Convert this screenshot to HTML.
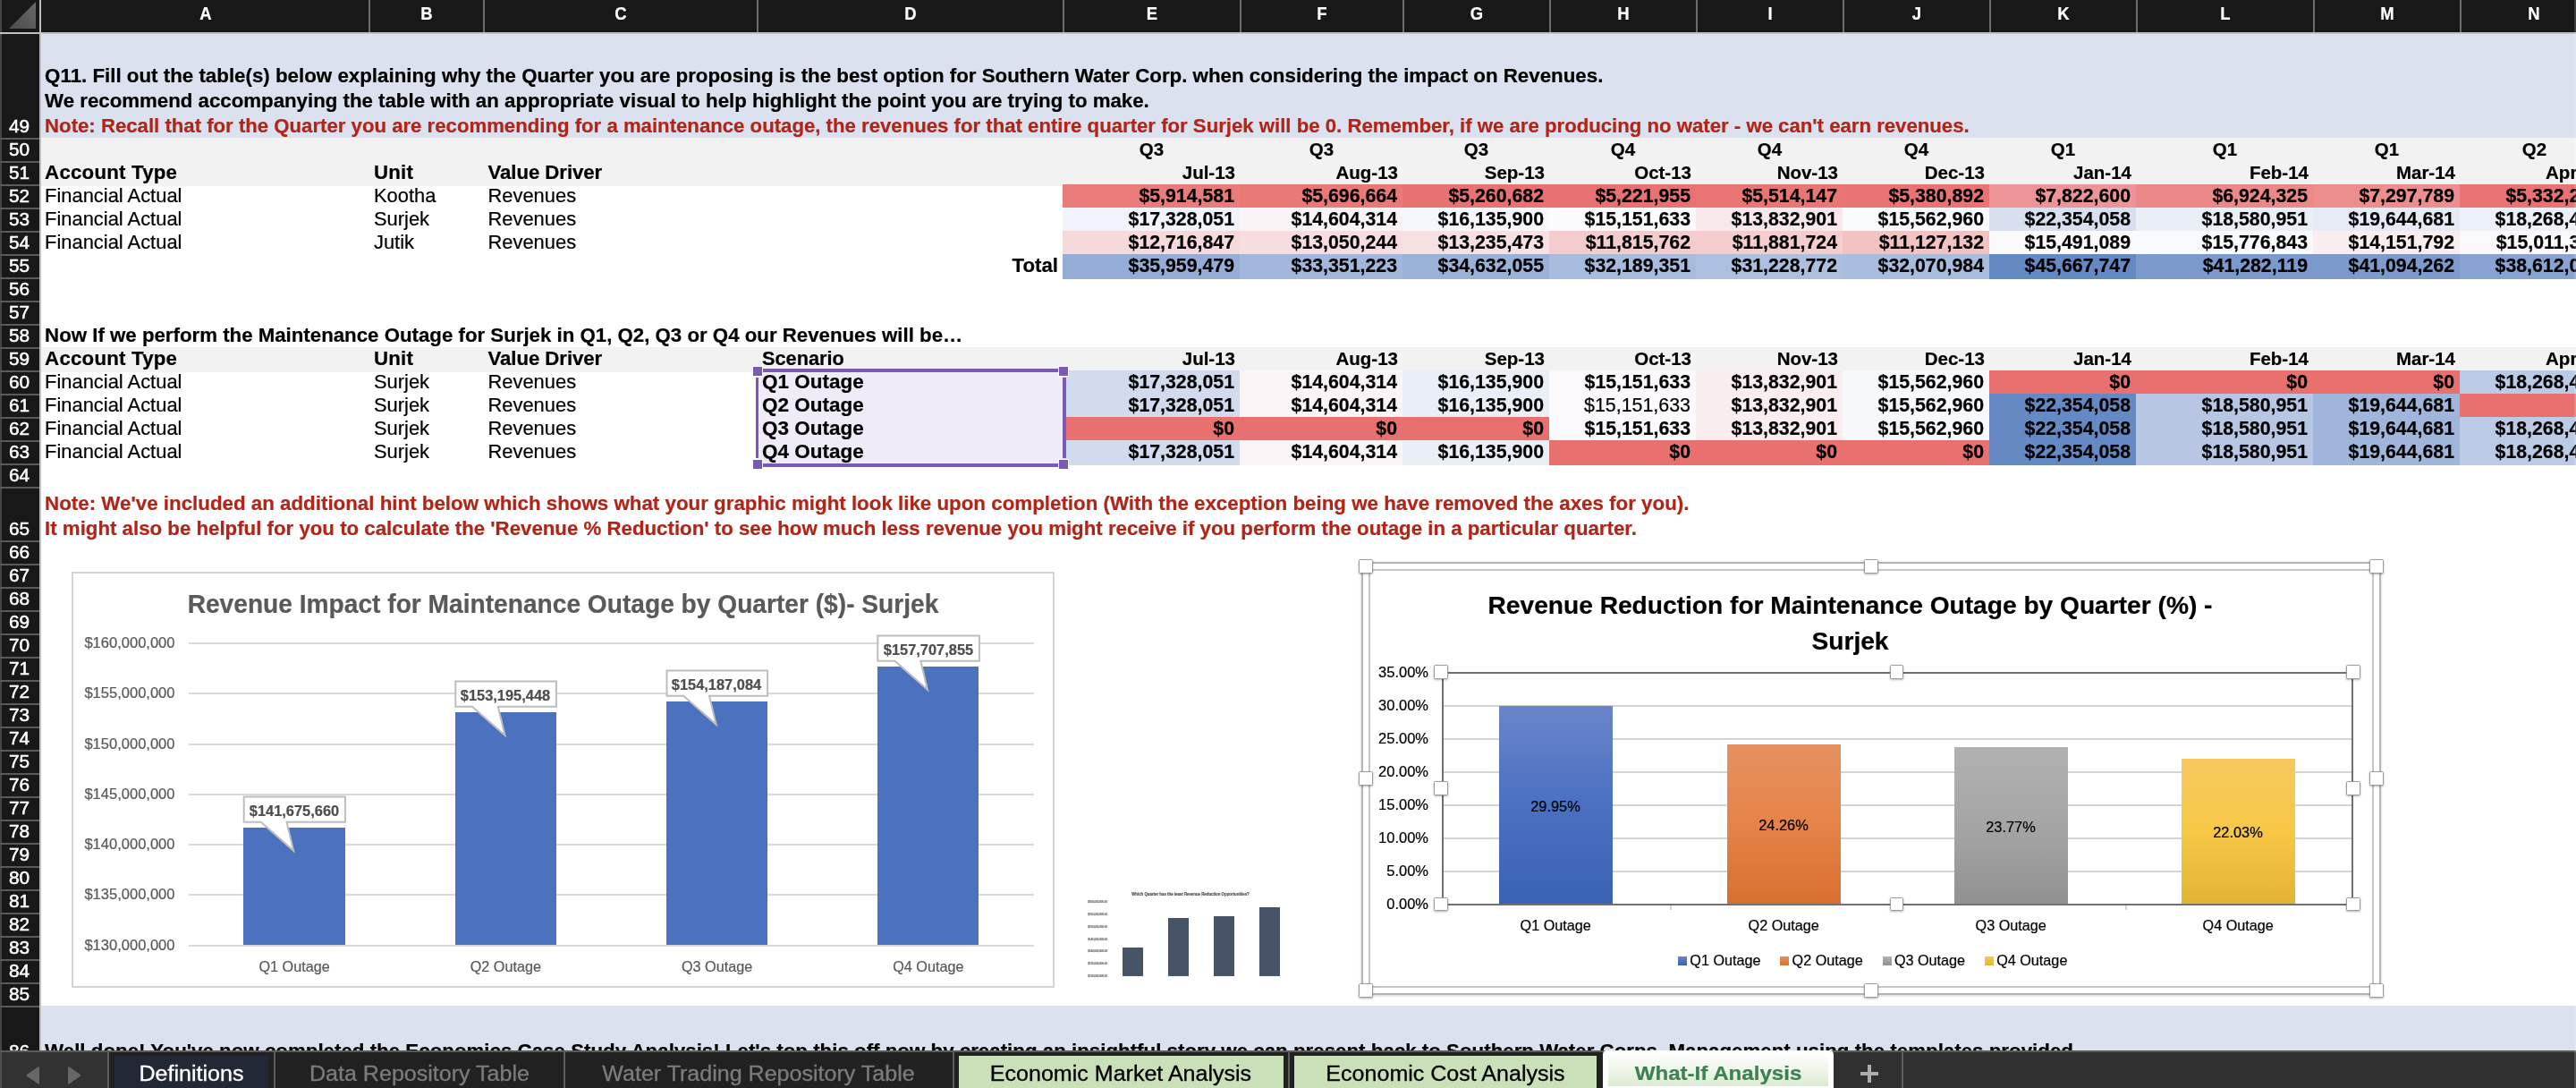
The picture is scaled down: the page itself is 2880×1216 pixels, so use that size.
<!DOCTYPE html><html><head><meta charset="utf-8"><title>What-If Analysis</title>
<style>
html,body{margin:0;padding:0;}
body{width:2880px;height:1216px;overflow:hidden;background:#fff;position:relative;font-family:"Liberation Sans",sans-serif;}
div{position:absolute;box-sizing:border-box;}
.t{white-space:nowrap;-webkit-text-stroke:0.22px currentColor;}
svg{position:absolute;overflow:visible;}
</style></head><body><div id="root" style="left:0;top:0;width:2880px;height:1216px;will-change:transform;overflow:hidden">
<div style="left:46px;top:38px;width:2834px;height:116px;background:#dce1f0;"></div>
<div style="left:46px;top:154px;width:2834px;height:54px;background:#f2f2f2;"></div>
<div style="left:46px;top:388px;width:2834px;height:28px;background:#f2f2f2;"></div>
<div style="left:46px;top:1124px;width:2834px;height:60px;background:#dce1f0;"></div>
<div style="left:1188px;top:206px;width:198px;height:26px;background:#ea7b7b;"></div>
<div class="t" style="top:204px;font-size:21.3px;line-height:30px;color:#000;font-weight:bold;right:1500px;text-align:right;">$5,914,581</div>
<div style="left:1386px;top:206px;width:182px;height:26px;background:#e97877;"></div>
<div class="t" style="top:204px;font-size:21.3px;line-height:30px;color:#000;font-weight:bold;right:1318px;text-align:right;">$5,696,664</div>
<div style="left:1568px;top:206px;width:164px;height:26px;background:#e87271;"></div>
<div class="t" style="top:204px;font-size:21.3px;line-height:30px;color:#000;font-weight:bold;right:1154px;text-align:right;">$5,260,682</div>
<div style="left:1732px;top:206px;width:164px;height:26px;background:#e87271;"></div>
<div class="t" style="top:204px;font-size:21.3px;line-height:30px;color:#000;font-weight:bold;right:990px;text-align:right;">$5,221,955</div>
<div style="left:1896px;top:206px;width:164px;height:26px;background:#e97675;"></div>
<div class="t" style="top:204px;font-size:21.3px;line-height:30px;color:#000;font-weight:bold;right:826px;text-align:right;">$5,514,147</div>
<div style="left:2060px;top:206px;width:164px;height:26px;background:#e97473;"></div>
<div class="t" style="top:204px;font-size:21.3px;line-height:30px;color:#000;font-weight:bold;right:662px;text-align:right;">$5,380,892</div>
<div style="left:2224px;top:206px;width:164px;height:26px;background:#ed9596;"></div>
<div class="t" style="top:204px;font-size:21.3px;line-height:30px;color:#000;font-weight:bold;right:498px;text-align:right;">$7,822,600</div>
<div style="left:2388px;top:206px;width:198px;height:26px;background:#eb8989;"></div>
<div class="t" style="top:204px;font-size:21.3px;line-height:30px;color:#000;font-weight:bold;right:300px;text-align:right;">$6,924,325</div>
<div style="left:2586px;top:206px;width:164px;height:26px;background:#ec8e8e;"></div>
<div class="t" style="top:204px;font-size:21.3px;line-height:30px;color:#000;font-weight:bold;right:136px;text-align:right;">$7,297,789</div>
<div style="left:2750px;top:206px;width:130px;height:26px;background:#e87372;"></div>
<div class="t" style="top:204px;font-size:21.3px;line-height:30px;color:#000;font-weight:bold;right:-28px;text-align:right;">$5,332,261</div>
<div style="left:1188px;top:232px;width:198px;height:26px;background:#f1f3fa;"></div>
<div class="t" style="top:230px;font-size:21.3px;line-height:30px;color:#000;font-weight:bold;right:1500px;text-align:right;">$17,328,051</div>
<div style="left:1386px;top:232px;width:182px;height:26px;background:#faf3f6;"></div>
<div class="t" style="top:230px;font-size:21.3px;line-height:30px;color:#000;font-weight:bold;right:1318px;text-align:right;">$14,604,314</div>
<div style="left:1568px;top:232px;width:164px;height:26px;background:#f6f7fc;"></div>
<div class="t" style="top:230px;font-size:21.3px;line-height:30px;color:#000;font-weight:bold;right:1154px;text-align:right;">$16,135,900</div>
<div style="left:1732px;top:232px;width:164px;height:26px;background:#fbfafd;"></div>
<div class="t" style="top:230px;font-size:21.3px;line-height:30px;color:#000;font-weight:bold;right:990px;text-align:right;">$15,151,633</div>
<div style="left:1896px;top:232px;width:164px;height:26px;background:#f8e8eb;"></div>
<div class="t" style="top:230px;font-size:21.3px;line-height:30px;color:#000;font-weight:bold;right:826px;text-align:right;">$13,832,901</div>
<div style="left:2060px;top:232px;width:164px;height:26px;background:#f9fafd;"></div>
<div class="t" style="top:230px;font-size:21.3px;line-height:30px;color:#000;font-weight:bold;right:662px;text-align:right;">$15,562,960</div>
<div style="left:2224px;top:232px;width:164px;height:26px;background:#d8e0f0;"></div>
<div class="t" style="top:230px;font-size:21.3px;line-height:30px;color:#000;font-weight:bold;right:498px;text-align:right;">$22,354,058</div>
<div style="left:2388px;top:232px;width:198px;height:26px;background:#eaeef7;"></div>
<div class="t" style="top:230px;font-size:21.3px;line-height:30px;color:#000;font-weight:bold;right:300px;text-align:right;">$18,580,951</div>
<div style="left:2586px;top:232px;width:164px;height:26px;background:#e5eaf5;"></div>
<div class="t" style="top:230px;font-size:21.3px;line-height:30px;color:#000;font-weight:bold;right:136px;text-align:right;">$19,644,681</div>
<div style="left:2750px;top:232px;width:130px;height:26px;background:#ecf0f8;"></div>
<div class="t" style="top:230px;font-size:21.3px;line-height:30px;color:#000;font-weight:bold;right:-28px;text-align:right;">$18,268,491</div>
<div style="left:1188px;top:258px;width:198px;height:26px;background:#f6d9db;"></div>
<div class="t" style="top:256px;font-size:21.3px;line-height:30px;color:#000;font-weight:bold;right:1500px;text-align:right;">$12,716,847</div>
<div style="left:1386px;top:258px;width:182px;height:26px;background:#f7dde0;"></div>
<div class="t" style="top:256px;font-size:21.3px;line-height:30px;color:#000;font-weight:bold;right:1318px;text-align:right;">$13,050,244</div>
<div style="left:1568px;top:258px;width:164px;height:26px;background:#f7e0e2;"></div>
<div class="t" style="top:256px;font-size:21.3px;line-height:30px;color:#000;font-weight:bold;right:1154px;text-align:right;">$13,235,473</div>
<div style="left:1732px;top:258px;width:164px;height:26px;background:#f5ccce;"></div>
<div class="t" style="top:256px;font-size:21.3px;line-height:30px;color:#000;font-weight:bold;right:990px;text-align:right;">$11,815,762</div>
<div style="left:1896px;top:258px;width:164px;height:26px;background:#f5cdcf;"></div>
<div class="t" style="top:256px;font-size:21.3px;line-height:30px;color:#000;font-weight:bold;right:826px;text-align:right;">$11,881,724</div>
<div style="left:2060px;top:258px;width:164px;height:26px;background:#f3c3c4;"></div>
<div class="t" style="top:256px;font-size:21.3px;line-height:30px;color:#000;font-weight:bold;right:662px;text-align:right;">$11,127,132</div>
<div style="left:2224px;top:258px;width:164px;height:26px;background:#fafafd;"></div>
<div class="t" style="top:256px;font-size:21.3px;line-height:30px;color:#000;font-weight:bold;right:498px;text-align:right;">$15,491,089</div>
<div style="left:2388px;top:258px;width:198px;height:26px;background:#f8f9fd;"></div>
<div class="t" style="top:256px;font-size:21.3px;line-height:30px;color:#000;font-weight:bold;right:300px;text-align:right;">$15,776,843</div>
<div style="left:2586px;top:258px;width:164px;height:26px;background:#f9edef;"></div>
<div class="t" style="top:256px;font-size:21.3px;line-height:30px;color:#000;font-weight:bold;right:136px;text-align:right;">$14,151,792</div>
<div style="left:2750px;top:258px;width:130px;height:26px;background:#fbf8fb;"></div>
<div class="t" style="top:256px;font-size:21.3px;line-height:30px;color:#000;font-weight:bold;right:-28px;text-align:right;">$15,011,342</div>
<div style="left:1188px;top:284px;width:198px;height:28px;background:#95add6;"></div>
<div class="t" style="top:282px;font-size:21.3px;line-height:30px;color:#000;font-weight:bold;right:1500px;text-align:right;">$35,959,479</div>
<div style="left:1386px;top:284px;width:182px;height:28px;background:#a2b7db;"></div>
<div class="t" style="top:282px;font-size:21.3px;line-height:30px;color:#000;font-weight:bold;right:1318px;text-align:right;">$33,351,223</div>
<div style="left:1568px;top:284px;width:164px;height:28px;background:#9bb2d8;"></div>
<div class="t" style="top:282px;font-size:21.3px;line-height:30px;color:#000;font-weight:bold;right:1154px;text-align:right;">$34,632,055</div>
<div style="left:1732px;top:284px;width:164px;height:28px;background:#a7bbdd;"></div>
<div class="t" style="top:282px;font-size:21.3px;line-height:30px;color:#000;font-weight:bold;right:990px;text-align:right;">$32,189,351</div>
<div style="left:1896px;top:284px;width:164px;height:28px;background:#acbfdf;"></div>
<div class="t" style="top:282px;font-size:21.3px;line-height:30px;color:#000;font-weight:bold;right:826px;text-align:right;">$31,228,772</div>
<div style="left:2060px;top:284px;width:164px;height:28px;background:#a8bcdd;"></div>
<div class="t" style="top:282px;font-size:21.3px;line-height:30px;color:#000;font-weight:bold;right:662px;text-align:right;">$32,070,984</div>
<div style="left:2224px;top:284px;width:164px;height:28px;background:#6589c3;"></div>
<div class="t" style="top:282px;font-size:21.3px;line-height:30px;color:#000;font-weight:bold;right:498px;text-align:right;">$45,667,747</div>
<div style="left:2388px;top:284px;width:198px;height:28px;background:#7b99cb;"></div>
<div class="t" style="top:282px;font-size:21.3px;line-height:30px;color:#000;font-weight:bold;right:300px;text-align:right;">$41,282,119</div>
<div style="left:2586px;top:284px;width:164px;height:28px;background:#7c9acc;"></div>
<div class="t" style="top:282px;font-size:21.3px;line-height:30px;color:#000;font-weight:bold;right:136px;text-align:right;">$41,094,262</div>
<div style="left:2750px;top:284px;width:130px;height:28px;background:#88a3d1;"></div>
<div class="t" style="top:282px;font-size:21.3px;line-height:30px;color:#000;font-weight:bold;right:-28px;text-align:right;">$38,612,095</div>
<div style="left:1188px;top:414px;width:198px;height:26px;background:#d1dbed;"></div>
<div class="t" style="top:412px;font-size:21.3px;line-height:30px;color:#000;font-weight:bold;right:1500px;text-align:right;">$17,328,051</div>
<div style="left:1386px;top:414px;width:182px;height:26px;background:#faf4f7;"></div>
<div class="t" style="top:412px;font-size:21.3px;line-height:30px;color:#000;font-weight:bold;right:1318px;text-align:right;">$14,604,314</div>
<div style="left:1568px;top:414px;width:164px;height:26px;background:#eaeef7;"></div>
<div class="t" style="top:412px;font-size:21.3px;line-height:30px;color:#000;font-weight:bold;right:1154px;text-align:right;">$16,135,900</div>
<div style="left:1732px;top:414px;width:164px;height:26px;background:#fbf9fc;"></div>
<div class="t" style="top:412px;font-size:21.3px;line-height:30px;color:#000;font-weight:bold;right:990px;text-align:right;">$15,151,633</div>
<div style="left:1896px;top:414px;width:164px;height:26px;background:#f9edf0;"></div>
<div class="t" style="top:412px;font-size:21.3px;line-height:30px;color:#000;font-weight:bold;right:826px;text-align:right;">$13,832,901</div>
<div style="left:2060px;top:414px;width:164px;height:26px;background:#f6f8fc;"></div>
<div class="t" style="top:412px;font-size:21.3px;line-height:30px;color:#000;font-weight:bold;right:662px;text-align:right;">$15,562,960</div>
<div style="left:2224px;top:414px;width:164px;height:26px;background:#e8706f;"></div>
<div class="t" style="top:412px;font-size:21.3px;line-height:30px;color:#000;font-weight:bold;right:498px;text-align:right;">$0</div>
<div style="left:2388px;top:414px;width:198px;height:26px;background:#e8706f;"></div>
<div class="t" style="top:412px;font-size:21.3px;line-height:30px;color:#000;font-weight:bold;right:300px;text-align:right;">$0</div>
<div style="left:2586px;top:414px;width:164px;height:26px;background:#e8706f;"></div>
<div class="t" style="top:412px;font-size:21.3px;line-height:30px;color:#000;font-weight:bold;right:136px;text-align:right;">$0</div>
<div style="left:2750px;top:414px;width:130px;height:26px;background:#bccbe5;"></div>
<div class="t" style="top:412px;font-size:21.3px;line-height:30px;color:#000;font-weight:bold;right:-28px;text-align:right;">$18,268,491</div>
<div style="left:1188px;top:440px;width:198px;height:26px;background:#d1dbed;"></div>
<div class="t" style="top:438px;font-size:21.3px;line-height:30px;color:#000;font-weight:bold;right:1500px;text-align:right;">$17,328,051</div>
<div style="left:1386px;top:440px;width:182px;height:26px;background:#faf4f7;"></div>
<div class="t" style="top:438px;font-size:21.3px;line-height:30px;color:#000;font-weight:bold;right:1318px;text-align:right;">$14,604,314</div>
<div style="left:1568px;top:440px;width:164px;height:26px;background:#eaeef7;"></div>
<div class="t" style="top:438px;font-size:21.3px;line-height:30px;color:#000;font-weight:bold;right:1154px;text-align:right;">$16,135,900</div>
<div style="left:1732px;top:440px;width:164px;height:26px;background:#fbf9fc;"></div>
<div class="t" style="top:438px;font-size:21.4px;line-height:30px;color:#000;right:990px;text-align:right;">$15,151,633</div>
<div style="left:1896px;top:440px;width:164px;height:26px;background:#f9edf0;"></div>
<div class="t" style="top:438px;font-size:21.3px;line-height:30px;color:#000;font-weight:bold;right:826px;text-align:right;">$13,832,901</div>
<div style="left:2060px;top:440px;width:164px;height:26px;background:#f6f8fc;"></div>
<div class="t" style="top:438px;font-size:21.3px;line-height:30px;color:#000;font-weight:bold;right:662px;text-align:right;">$15,562,960</div>
<div style="left:2224px;top:440px;width:164px;height:26px;background:#6589c3;"></div>
<div class="t" style="top:438px;font-size:21.3px;line-height:30px;color:#000;font-weight:bold;right:498px;text-align:right;">$22,354,058</div>
<div style="left:2388px;top:440px;width:198px;height:26px;background:#b6c6e3;"></div>
<div class="t" style="top:438px;font-size:21.3px;line-height:30px;color:#000;font-weight:bold;right:300px;text-align:right;">$18,580,951</div>
<div style="left:2586px;top:440px;width:164px;height:26px;background:#9fb5da;"></div>
<div class="t" style="top:438px;font-size:21.3px;line-height:30px;color:#000;font-weight:bold;right:136px;text-align:right;">$19,644,681</div>
<div style="left:2750px;top:440px;width:130px;height:26px;background:#e8706f;"></div>
<div class="t" style="top:438px;font-size:21.3px;line-height:30px;color:#000;font-weight:bold;right:-28px;text-align:right;">$0</div>
<div style="left:1188px;top:466px;width:198px;height:26px;background:#e8706f;"></div>
<div class="t" style="top:464px;font-size:21.3px;line-height:30px;color:#000;font-weight:bold;right:1500px;text-align:right;">$0</div>
<div style="left:1386px;top:466px;width:182px;height:26px;background:#e8706f;"></div>
<div class="t" style="top:464px;font-size:21.3px;line-height:30px;color:#000;font-weight:bold;right:1318px;text-align:right;">$0</div>
<div style="left:1568px;top:466px;width:164px;height:26px;background:#e8706f;"></div>
<div class="t" style="top:464px;font-size:21.3px;line-height:30px;color:#000;font-weight:bold;right:1154px;text-align:right;">$0</div>
<div style="left:1732px;top:466px;width:164px;height:26px;background:#fbf9fc;"></div>
<div class="t" style="top:464px;font-size:21.3px;line-height:30px;color:#000;font-weight:bold;right:990px;text-align:right;">$15,151,633</div>
<div style="left:1896px;top:466px;width:164px;height:26px;background:#f9edf0;"></div>
<div class="t" style="top:464px;font-size:21.3px;line-height:30px;color:#000;font-weight:bold;right:826px;text-align:right;">$13,832,901</div>
<div style="left:2060px;top:466px;width:164px;height:26px;background:#f6f8fc;"></div>
<div class="t" style="top:464px;font-size:21.3px;line-height:30px;color:#000;font-weight:bold;right:662px;text-align:right;">$15,562,960</div>
<div style="left:2224px;top:466px;width:164px;height:26px;background:#6589c3;"></div>
<div class="t" style="top:464px;font-size:21.3px;line-height:30px;color:#000;font-weight:bold;right:498px;text-align:right;">$22,354,058</div>
<div style="left:2388px;top:466px;width:198px;height:26px;background:#b6c6e3;"></div>
<div class="t" style="top:464px;font-size:21.3px;line-height:30px;color:#000;font-weight:bold;right:300px;text-align:right;">$18,580,951</div>
<div style="left:2586px;top:466px;width:164px;height:26px;background:#9fb5da;"></div>
<div class="t" style="top:464px;font-size:21.3px;line-height:30px;color:#000;font-weight:bold;right:136px;text-align:right;">$19,644,681</div>
<div style="left:2750px;top:466px;width:130px;height:26px;background:#bccbe5;"></div>
<div class="t" style="top:464px;font-size:21.3px;line-height:30px;color:#000;font-weight:bold;right:-28px;text-align:right;">$18,268,491</div>
<div style="left:1188px;top:492px;width:198px;height:28px;background:#d1dbed;"></div>
<div class="t" style="top:490px;font-size:21.3px;line-height:30px;color:#000;font-weight:bold;right:1500px;text-align:right;">$17,328,051</div>
<div style="left:1386px;top:492px;width:182px;height:28px;background:#faf4f7;"></div>
<div class="t" style="top:490px;font-size:21.3px;line-height:30px;color:#000;font-weight:bold;right:1318px;text-align:right;">$14,604,314</div>
<div style="left:1568px;top:492px;width:164px;height:28px;background:#eaeef7;"></div>
<div class="t" style="top:490px;font-size:21.3px;line-height:30px;color:#000;font-weight:bold;right:1154px;text-align:right;">$16,135,900</div>
<div style="left:1732px;top:492px;width:164px;height:28px;background:#e8706f;"></div>
<div class="t" style="top:490px;font-size:21.3px;line-height:30px;color:#000;font-weight:bold;right:990px;text-align:right;">$0</div>
<div style="left:1896px;top:492px;width:164px;height:28px;background:#e8706f;"></div>
<div class="t" style="top:490px;font-size:21.3px;line-height:30px;color:#000;font-weight:bold;right:826px;text-align:right;">$0</div>
<div style="left:2060px;top:492px;width:164px;height:28px;background:#e8706f;"></div>
<div class="t" style="top:490px;font-size:21.3px;line-height:30px;color:#000;font-weight:bold;right:662px;text-align:right;">$0</div>
<div style="left:2224px;top:492px;width:164px;height:28px;background:#6589c3;"></div>
<div class="t" style="top:490px;font-size:21.3px;line-height:30px;color:#000;font-weight:bold;right:498px;text-align:right;">$22,354,058</div>
<div style="left:2388px;top:492px;width:198px;height:28px;background:#b6c6e3;"></div>
<div class="t" style="top:490px;font-size:21.3px;line-height:30px;color:#000;font-weight:bold;right:300px;text-align:right;">$18,580,951</div>
<div style="left:2586px;top:492px;width:164px;height:28px;background:#9fb5da;"></div>
<div class="t" style="top:490px;font-size:21.3px;line-height:30px;color:#000;font-weight:bold;right:136px;text-align:right;">$19,644,681</div>
<div style="left:2750px;top:492px;width:130px;height:28px;background:#bccbe5;"></div>
<div class="t" style="top:490px;font-size:21.3px;line-height:30px;color:#000;font-weight:bold;right:-28px;text-align:right;">$18,268,491</div>
<div class="t" style="top:70px;font-size:22.32px;line-height:30px;color:#000;font-weight:bold;left:50.1px;">Q11. Fill out the table(s) below explaining why the Quarter you are proposing is the best option for Southern Water Corp. when considering the impact on Revenues.</div>
<div class="t" style="top:98px;font-size:22.25px;line-height:30px;color:#000;font-weight:bold;left:50.1px;">We recommend accompanying the table with an appropriate visual to help highlight the point you are trying to make.</div>
<div class="t" style="top:126px;font-size:22.18px;line-height:30px;color:#b12519;font-weight:bold;left:50.1px;">Note: Recall that for the Quarter you are recommending for a maintenance outage, the revenues for that entire quarter for Surjek will be 0. Remember, if we are producing no water - we can't earn revenues.</div>
<div class="t" style="top:152px;font-size:20.5px;line-height:30px;color:#000;font-weight:bold;left:287.5px;width:2000px;text-align:center;">Q3</div>
<div class="t" style="top:152px;font-size:20.5px;line-height:30px;color:#000;font-weight:bold;left:477.5px;width:2000px;text-align:center;">Q3</div>
<div class="t" style="top:152px;font-size:20.5px;line-height:30px;color:#000;font-weight:bold;left:650.5px;width:2000px;text-align:center;">Q3</div>
<div class="t" style="top:152px;font-size:20.5px;line-height:30px;color:#000;font-weight:bold;left:814.5px;width:2000px;text-align:center;">Q4</div>
<div class="t" style="top:152px;font-size:20.5px;line-height:30px;color:#000;font-weight:bold;left:978.5px;width:2000px;text-align:center;">Q4</div>
<div class="t" style="top:152px;font-size:20.5px;line-height:30px;color:#000;font-weight:bold;left:1142.5px;width:2000px;text-align:center;">Q4</div>
<div class="t" style="top:152px;font-size:20.5px;line-height:30px;color:#000;font-weight:bold;left:1306.5px;width:2000px;text-align:center;">Q1</div>
<div class="t" style="top:152px;font-size:20.5px;line-height:30px;color:#000;font-weight:bold;left:1487.5px;width:2000px;text-align:center;">Q1</div>
<div class="t" style="top:152px;font-size:20.5px;line-height:30px;color:#000;font-weight:bold;left:1668.5px;width:2000px;text-align:center;">Q1</div>
<div class="t" style="top:152px;font-size:20.5px;line-height:30px;color:#000;font-weight:bold;left:1833.5px;width:2000px;text-align:center;">Q2</div>
<div class="t" style="top:178px;font-size:20.5px;line-height:30px;color:#000;font-weight:bold;right:1499px;text-align:right;">Jul-13</div>
<div class="t" style="top:178px;font-size:20.5px;line-height:30px;color:#000;font-weight:bold;right:1317px;text-align:right;">Aug-13</div>
<div class="t" style="top:178px;font-size:20.5px;line-height:30px;color:#000;font-weight:bold;right:1153px;text-align:right;">Sep-13</div>
<div class="t" style="top:178px;font-size:20.5px;line-height:30px;color:#000;font-weight:bold;right:989px;text-align:right;">Oct-13</div>
<div class="t" style="top:178px;font-size:20.5px;line-height:30px;color:#000;font-weight:bold;right:825px;text-align:right;">Nov-13</div>
<div class="t" style="top:178px;font-size:20.5px;line-height:30px;color:#000;font-weight:bold;right:661px;text-align:right;">Dec-13</div>
<div class="t" style="top:178px;font-size:20.5px;line-height:30px;color:#000;font-weight:bold;right:497px;text-align:right;">Jan-14</div>
<div class="t" style="top:178px;font-size:20.5px;line-height:30px;color:#000;font-weight:bold;right:299px;text-align:right;">Feb-14</div>
<div class="t" style="top:178px;font-size:20.5px;line-height:30px;color:#000;font-weight:bold;right:135px;text-align:right;">Mar-14</div>
<div class="t" style="top:178px;font-size:20.5px;line-height:30px;color:#000;font-weight:bold;right:-31px;text-align:right;">Apr-14</div>
<div class="t" style="top:178px;font-size:22.25px;line-height:30px;color:#000;font-weight:bold;left:50.1px;letter-spacing:0.22px;">Account Type</div>
<div class="t" style="top:178px;font-size:22.25px;line-height:30px;color:#000;font-weight:bold;left:418px;letter-spacing:0.2px;">Unit</div>
<div class="t" style="top:178px;font-size:22.25px;line-height:30px;color:#000;font-weight:bold;left:545.5px;letter-spacing:-0.08px;">Value Driver</div>
<div class="t" style="top:386px;font-size:20.5px;line-height:30px;color:#000;font-weight:bold;right:1499px;text-align:right;">Jul-13</div>
<div class="t" style="top:386px;font-size:20.5px;line-height:30px;color:#000;font-weight:bold;right:1317px;text-align:right;">Aug-13</div>
<div class="t" style="top:386px;font-size:20.5px;line-height:30px;color:#000;font-weight:bold;right:1153px;text-align:right;">Sep-13</div>
<div class="t" style="top:386px;font-size:20.5px;line-height:30px;color:#000;font-weight:bold;right:989px;text-align:right;">Oct-13</div>
<div class="t" style="top:386px;font-size:20.5px;line-height:30px;color:#000;font-weight:bold;right:825px;text-align:right;">Nov-13</div>
<div class="t" style="top:386px;font-size:20.5px;line-height:30px;color:#000;font-weight:bold;right:661px;text-align:right;">Dec-13</div>
<div class="t" style="top:386px;font-size:20.5px;line-height:30px;color:#000;font-weight:bold;right:497px;text-align:right;">Jan-14</div>
<div class="t" style="top:386px;font-size:20.5px;line-height:30px;color:#000;font-weight:bold;right:299px;text-align:right;">Feb-14</div>
<div class="t" style="top:386px;font-size:20.5px;line-height:30px;color:#000;font-weight:bold;right:135px;text-align:right;">Mar-14</div>
<div class="t" style="top:386px;font-size:20.5px;line-height:30px;color:#000;font-weight:bold;right:-31px;text-align:right;">Apr-14</div>
<div class="t" style="top:386px;font-size:22.25px;line-height:30px;color:#000;font-weight:bold;left:50.1px;letter-spacing:0.22px;">Account Type</div>
<div class="t" style="top:386px;font-size:22.25px;line-height:30px;color:#000;font-weight:bold;left:418px;letter-spacing:0.2px;">Unit</div>
<div class="t" style="top:386px;font-size:22.25px;line-height:30px;color:#000;font-weight:bold;left:545.5px;letter-spacing:-0.08px;">Value Driver</div>
<div class="t" style="top:386px;font-size:21.75px;line-height:30px;color:#000;font-weight:bold;left:852px;">Scenario</div>
<div class="t" style="top:204px;font-size:21.9px;line-height:30px;color:#000;left:50.1px;">Financial Actual</div>
<div class="t" style="top:204px;font-size:21.9px;line-height:30px;color:#000;left:418px;">Kootha</div>
<div class="t" style="top:204px;font-size:21.9px;line-height:30px;color:#000;left:545.5px;">Revenues</div>
<div class="t" style="top:230px;font-size:21.9px;line-height:30px;color:#000;left:50.1px;">Financial Actual</div>
<div class="t" style="top:230px;font-size:21.9px;line-height:30px;color:#000;left:418px;">Surjek</div>
<div class="t" style="top:230px;font-size:21.9px;line-height:30px;color:#000;left:545.5px;">Revenues</div>
<div class="t" style="top:256px;font-size:21.9px;line-height:30px;color:#000;left:50.1px;">Financial Actual</div>
<div class="t" style="top:256px;font-size:21.9px;line-height:30px;color:#000;left:418px;">Jutik</div>
<div class="t" style="top:256px;font-size:21.9px;line-height:30px;color:#000;left:545.5px;">Revenues</div>
<div class="t" style="top:282px;font-size:22.25px;line-height:30px;color:#000;font-weight:bold;right:1697px;text-align:right;">Total</div>
<div class="t" style="top:360px;font-size:22.25px;line-height:30px;color:#000;font-weight:bold;left:50.1px;">Now If we perform the Maintenance Outage for Surjek in Q1, Q2, Q3 or Q4 our Revenues will be…</div>
<div style="left:848px;top:416px;width:340px;height:102px;background:#efecf8;"></div>
<div class="t" style="top:412px;font-size:21.9px;line-height:30px;color:#000;left:50.1px;">Financial Actual</div>
<div class="t" style="top:412px;font-size:21.9px;line-height:30px;color:#000;left:418px;">Surjek</div>
<div class="t" style="top:412px;font-size:21.9px;line-height:30px;color:#000;left:545.5px;">Revenues</div>
<div class="t" style="top:412px;font-size:22.5px;line-height:30px;color:#000;font-weight:bold;left:852px;">Q1 Outage</div>
<div class="t" style="top:438px;font-size:21.9px;line-height:30px;color:#000;left:50.1px;">Financial Actual</div>
<div class="t" style="top:438px;font-size:21.9px;line-height:30px;color:#000;left:418px;">Surjek</div>
<div class="t" style="top:438px;font-size:21.9px;line-height:30px;color:#000;left:545.5px;">Revenues</div>
<div class="t" style="top:438px;font-size:22.5px;line-height:30px;color:#000;font-weight:bold;left:852px;">Q2 Outage</div>
<div class="t" style="top:464px;font-size:21.9px;line-height:30px;color:#000;left:50.1px;">Financial Actual</div>
<div class="t" style="top:464px;font-size:21.9px;line-height:30px;color:#000;left:418px;">Surjek</div>
<div class="t" style="top:464px;font-size:21.9px;line-height:30px;color:#000;left:545.5px;">Revenues</div>
<div class="t" style="top:464px;font-size:22.5px;line-height:30px;color:#000;font-weight:bold;left:852px;">Q3 Outage</div>
<div class="t" style="top:490px;font-size:21.9px;line-height:30px;color:#000;left:50.1px;">Financial Actual</div>
<div class="t" style="top:490px;font-size:21.9px;line-height:30px;color:#000;left:418px;">Surjek</div>
<div class="t" style="top:490px;font-size:21.9px;line-height:30px;color:#000;left:545.5px;">Revenues</div>
<div class="t" style="top:490px;font-size:22.5px;line-height:30px;color:#000;font-weight:bold;left:852px;">Q4 Outage</div>
<div class="t" style="top:548px;font-size:22.33px;line-height:30px;color:#b12519;font-weight:bold;left:50.1px;">Note: We've included an additional hint below which shows what your graphic might look like upon completion (With the exception being we have removed the axes for you).</div>
<div class="t" style="top:576px;font-size:22.25px;line-height:30px;color:#b12519;font-weight:bold;left:50.1px;">It might also be helpful for you to calculate the 'Revenue % Reduction' to see how much less revenue you might receive if you perform the outage in a particular quarter.</div>
<div class="t" style="top:1160px;font-size:22.32px;line-height:30px;color:#000;font-weight:bold;left:50.1px;">Well done! You've now completed the Economics Case Study Analysis! Let's top this off now by creating an insightful story we can present back to Southern Water Corps. Management using the templates provided.</div>
<div style="left:853px;top:412px;width:330px;height:4px;background:#7a5bb4;"></div>
<div style="left:853px;top:518px;width:330px;height:4px;background:#7a5bb4;"></div>
<div style="left:844.5px;top:422px;width:3.5px;height:90px;background:#7a5bb4;"></div>
<div style="left:1188px;top:422px;width:4px;height:90px;background:#7a5bb4;"></div>
<div style="left:841px;top:409px;width:12px;height:12px;background:#fff;"></div>
<div style="left:842px;top:410px;width:10px;height:10px;background:#7a5bb4;"></div>
<div style="left:1183px;top:409px;width:12px;height:12px;background:#fff;"></div>
<div style="left:1184px;top:410px;width:10px;height:10px;background:#7a5bb4;"></div>
<div style="left:841px;top:513px;width:12px;height:12px;background:#fff;"></div>
<div style="left:842px;top:514px;width:10px;height:10px;background:#7a5bb4;"></div>
<div style="left:1183px;top:513px;width:12px;height:12px;background:#fff;"></div>
<div style="left:1184px;top:514px;width:10px;height:10px;background:#7a5bb4;"></div>
<div style="left:80px;top:639px;width:1099px;height:465px;background:#fff;border:2px solid #d4d4d4"></div>
<div class="t" style="top:661px;font-size:28.15px;line-height:30px;color:#595959;font-weight:bold;left:-370.5px;width:2000px;text-align:center;transform:scale(1,1.05);transform-origin:50% 24px;">Revenue Impact for Maintenance Outage by Quarter ($)- Surjek</div>
<div style="left:211px;top:1056px;width:945px;height:2px;background:#d9d9d9;"></div>
<div class="t" style="top:1042px;font-size:16.55px;line-height:30px;color:#595959;right:2684.5px;text-align:right;transform:scale(1,1.04);transform-origin:100% 20px;">$130,000,000</div>
<div style="left:211px;top:999px;width:945px;height:2px;background:#d9d9d9;"></div>
<div class="t" style="top:985px;font-size:16.55px;line-height:30px;color:#595959;right:2684.5px;text-align:right;transform:scale(1,1.04);transform-origin:100% 20px;">$135,000,000</div>
<div style="left:211px;top:943px;width:945px;height:2px;background:#d9d9d9;"></div>
<div class="t" style="top:929px;font-size:16.55px;line-height:30px;color:#595959;right:2684.5px;text-align:right;transform:scale(1,1.04);transform-origin:100% 20px;">$140,000,000</div>
<div style="left:211px;top:887px;width:945px;height:2px;background:#d9d9d9;"></div>
<div class="t" style="top:873px;font-size:16.55px;line-height:30px;color:#595959;right:2684.5px;text-align:right;transform:scale(1,1.04);transform-origin:100% 20px;">$145,000,000</div>
<div style="left:211px;top:831px;width:945px;height:2px;background:#d9d9d9;"></div>
<div class="t" style="top:817px;font-size:16.55px;line-height:30px;color:#595959;right:2684.5px;text-align:right;transform:scale(1,1.04);transform-origin:100% 20px;">$150,000,000</div>
<div style="left:211px;top:774px;width:945px;height:2px;background:#d9d9d9;"></div>
<div class="t" style="top:760px;font-size:16.55px;line-height:30px;color:#595959;right:2684.5px;text-align:right;transform:scale(1,1.04);transform-origin:100% 20px;">$155,000,000</div>
<div style="left:211px;top:718px;width:945px;height:2px;background:#d9d9d9;"></div>
<div class="t" style="top:704px;font-size:16.55px;line-height:30px;color:#595959;right:2684.5px;text-align:right;transform:scale(1,1.04);transform-origin:100% 20px;">$160,000,000</div>
<div style="left:272px;top:925px;width:114px;height:131px;background:#4a72be;"></div>
<div class="t" style="top:1065px;font-size:16.2px;line-height:30px;color:#595959;left:-670.875px;width:2000px;text-align:center;">Q1 Outage</div>
<svg style="left:0;top:0" width="2880" height="1216"><path d="M272.7 890.4 H385.9 V918.7 H320.5 L328.2 950.8 L291.7 918.7 H272.7 Z" fill="#fff" stroke="#bdbdbd" stroke-width="2" stroke-linejoin="miter"/></svg>
<div class="t" style="top:891px;font-size:17.4px;line-height:30px;color:#4d4d4d;font-weight:bold;left:-671.175px;width:2000px;text-align:center;transform:scale(0.943,1);transform-origin:50% 21px;">$141,675,660</div>
<div style="left:509px;top:796px;width:113px;height:260px;background:#4a72be;"></div>
<div class="t" style="top:1065px;font-size:16.2px;line-height:30px;color:#595959;left:-434.625px;width:2000px;text-align:center;">Q2 Outage</div>
<svg style="left:0;top:0" width="2880" height="1216"><path d="M509.3 761.4 H621.9 V789.7 H556.8 L564.5 821.8 L528.0 789.7 H509.3 Z" fill="#fff" stroke="#bdbdbd" stroke-width="2" stroke-linejoin="miter"/></svg>
<div class="t" style="top:762px;font-size:17.4px;line-height:30px;color:#4d4d4d;font-weight:bold;left:-434.92499999999995px;width:2000px;text-align:center;transform:scale(0.943,1);transform-origin:50% 21px;">$153,195,448</div>
<div style="left:745px;top:784px;width:113px;height:272px;background:#4a72be;"></div>
<div class="t" style="top:1065px;font-size:16.2px;line-height:30px;color:#595959;left:-198.375px;width:2000px;text-align:center;">Q3 Outage</div>
<svg style="left:0;top:0" width="2880" height="1216"><path d="M745.5 749.4 H858.1 V777.7 H793.0 L800.7 809.8 L764.2 777.7 H745.5 Z" fill="#fff" stroke="#bdbdbd" stroke-width="2" stroke-linejoin="miter"/></svg>
<div class="t" style="top:750px;font-size:17.4px;line-height:30px;color:#4d4d4d;font-weight:bold;left:-198.67499999999995px;width:2000px;text-align:center;transform:scale(0.943,1);transform-origin:50% 21px;">$154,187,084</div>
<div style="left:981px;top:745px;width:113px;height:311px;background:#4a72be;"></div>
<div class="t" style="top:1065px;font-size:16.2px;line-height:30px;color:#595959;left:37.875px;width:2000px;text-align:center;">Q4 Outage</div>
<svg style="left:0;top:0" width="2880" height="1216"><path d="M981.3 710.4 H1094.9 V738.7 H1029.3 L1037.0 770.8 L1000.5 738.7 H981.3 Z" fill="#fff" stroke="#bdbdbd" stroke-width="2" stroke-linejoin="miter"/></svg>
<div class="t" style="top:711px;font-size:17.4px;line-height:30px;color:#4d4d4d;font-weight:bold;left:37.575000000000045px;width:2000px;text-align:center;transform:scale(0.943,1);transform-origin:50% 21px;">$157,707,855</div>
<div style="left:1255px;top:1058.5px;width:23px;height:32.2px;background:#475468;"></div>
<div style="left:1306px;top:1026px;width:23px;height:64.7px;background:#475468;"></div>
<div style="left:1357px;top:1024px;width:23px;height:66.7px;background:#475468;"></div>
<div style="left:1408px;top:1014px;width:23px;height:76.7px;background:#475468;"></div>
<div class="t" style="top:985px;font-size:4.9px;line-height:30px;color:#555;font-weight:bold;left:331.29999999999995px;width:2000px;text-align:center;transform:scale(0.888,1);transform-origin:50% 16px;">Which Quarter has the least Revenue Reduction Opportunities?</div>
<div class="t" style="top:993px;font-size:2.9px;line-height:30px;color:#777;right:1642px;text-align:right;">$160,000,000.00</div>
<div class="t" style="top:1007px;font-size:2.9px;line-height:30px;color:#777;right:1642px;text-align:right;">$155,000,000.00</div>
<div class="t" style="top:1021px;font-size:2.9px;line-height:30px;color:#777;right:1642px;text-align:right;">$150,000,000.00</div>
<div class="t" style="top:1035px;font-size:2.9px;line-height:30px;color:#777;right:1642px;text-align:right;">$145,000,000.00</div>
<div class="t" style="top:1048px;font-size:2.9px;line-height:30px;color:#777;right:1642px;text-align:right;">$140,000,000.00</div>
<div class="t" style="top:1062px;font-size:2.9px;line-height:30px;color:#777;right:1642px;text-align:right;">$135,000,000.00</div>
<div class="t" style="top:1076px;font-size:2.9px;line-height:30px;color:#777;right:1642px;text-align:right;">$130,000,000.00</div>
<div style="left:1522px;top:628px;width:1140px;height:484px;background:#fff;border:2px solid #b4b4b4;box-shadow:0 1px 3px rgba(0,0,0,.18)"></div>
<div style="left:1530px;top:636px;width:1124px;height:468px;background:#fff;border:2px solid #c6c6c6"></div>
<div class="t" style="top:662px;font-size:28.15px;line-height:30px;color:#000;font-weight:bold;left:1068.5px;width:2000px;text-align:center;">Revenue Reduction for Maintenance Outage by Quarter (%) -</div>
<div class="t" style="top:702px;font-size:28.15px;line-height:30px;color:#000;font-weight:bold;left:1068.5px;width:2000px;text-align:center;">Surjek</div>
<div class="t" style="top:995px;font-size:16.5px;line-height:30px;color:#000;right:1283px;text-align:right;transform:scale(1,0.96);transform-origin:100% 21px;">0.00%</div>
<div style="left:1612px;top:973px;width:1019px;height:2px;background:#d4d4d4;"></div>
<div class="t" style="top:958px;font-size:16.5px;line-height:30px;color:#000;right:1283px;text-align:right;transform:scale(1,0.96);transform-origin:100% 21px;">5.00%</div>
<div style="left:1612px;top:936px;width:1019px;height:2px;background:#d4d4d4;"></div>
<div class="t" style="top:921px;font-size:16.5px;line-height:30px;color:#000;right:1283px;text-align:right;transform:scale(1,0.96);transform-origin:100% 21px;">10.00%</div>
<div style="left:1612px;top:899px;width:1019px;height:2px;background:#d4d4d4;"></div>
<div class="t" style="top:884px;font-size:16.5px;line-height:30px;color:#000;right:1283px;text-align:right;transform:scale(1,0.96);transform-origin:100% 21px;">15.00%</div>
<div style="left:1612px;top:862px;width:1019px;height:2px;background:#d4d4d4;"></div>
<div class="t" style="top:847px;font-size:16.5px;line-height:30px;color:#000;right:1283px;text-align:right;transform:scale(1,0.96);transform-origin:100% 21px;">20.00%</div>
<div style="left:1612px;top:825px;width:1019px;height:2px;background:#d4d4d4;"></div>
<div class="t" style="top:810px;font-size:16.5px;line-height:30px;color:#000;right:1283px;text-align:right;transform:scale(1,0.96);transform-origin:100% 21px;">25.00%</div>
<div style="left:1612px;top:788px;width:1019px;height:2px;background:#d4d4d4;"></div>
<div class="t" style="top:773px;font-size:16.5px;line-height:30px;color:#000;right:1283px;text-align:right;transform:scale(1,0.96);transform-origin:100% 21px;">30.00%</div>
<div class="t" style="top:736px;font-size:16.5px;line-height:30px;color:#000;right:1283px;text-align:right;transform:scale(1,0.96);transform-origin:100% 21px;">35.00%</div>
<div style="left:1676px;top:789px;width:127px;height:221px;background:linear-gradient(180deg,#6985c9,#4a70c2 50%,#3a62b4)"></div>
<div class="t" style="top:887px;font-size:16.9px;line-height:30px;color:#000;left:739.2px;width:2000px;text-align:center;transform:scale(0.97,1);transform-origin:50% 20px;">29.95%</div>
<div class="t" style="top:1019px;font-size:16.2px;line-height:30px;color:#000;left:739.2px;width:2000px;text-align:center;">Q1 Outage</div>
<div style="left:1876.0px;top:1069.3px;width:10px;height:10px;background:linear-gradient(180deg,#6985c9,#3a62b4)"></div>
<div class="t" style="top:1058px;font-size:16.2px;line-height:30px;color:#000;left:1889.3px;">Q1 Outage</div>
<div style="left:1931px;top:832px;width:127px;height:178px;background:linear-gradient(180deg,#e49161,#e68347 50%,#d76f2f)"></div>
<div class="t" style="top:908px;font-size:16.9px;line-height:30px;color:#000;left:994.2px;width:2000px;text-align:center;transform:scale(0.97,1);transform-origin:50% 20px;">24.26%</div>
<div class="t" style="top:1019px;font-size:16.2px;line-height:30px;color:#000;left:994.2px;width:2000px;text-align:center;">Q2 Outage</div>
<div style="left:1990.3px;top:1069.3px;width:10px;height:10px;background:linear-gradient(180deg,#e49161,#d76f2f)"></div>
<div class="t" style="top:1058px;font-size:16.2px;line-height:30px;color:#000;left:2003.6px;">Q2 Outage</div>
<div style="left:2185px;top:835px;width:127px;height:175px;background:linear-gradient(180deg,#b1b1b1,#a5a5a5 50%,#919191)"></div>
<div class="t" style="top:910px;font-size:16.9px;line-height:30px;color:#000;left:1248.1999999999998px;width:2000px;text-align:center;transform:scale(0.97,1);transform-origin:50% 20px;">23.77%</div>
<div class="t" style="top:1019px;font-size:16.2px;line-height:30px;color:#000;left:1248.1999999999998px;width:2000px;text-align:center;">Q3 Outage</div>
<div style="left:2104.6px;top:1069.3px;width:10px;height:10px;background:linear-gradient(180deg,#b1b1b1,#919191)"></div>
<div class="t" style="top:1058px;font-size:16.2px;line-height:30px;color:#000;left:2117.9px;">Q3 Outage</div>
<div style="left:2439px;top:848px;width:127px;height:162px;background:linear-gradient(180deg,#f6c95e,#f7c746 50%,#e3b433)"></div>
<div class="t" style="top:916px;font-size:16.9px;line-height:30px;color:#000;left:1502.1999999999998px;width:2000px;text-align:center;transform:scale(0.97,1);transform-origin:50% 20px;">22.03%</div>
<div class="t" style="top:1019px;font-size:16.2px;line-height:30px;color:#000;left:1502.1999999999998px;width:2000px;text-align:center;">Q4 Outage</div>
<div style="left:2218.9px;top:1069.3px;width:10px;height:10px;background:linear-gradient(180deg,#f6c95e,#e3b433)"></div>
<div class="t" style="top:1058px;font-size:16.2px;line-height:30px;color:#000;left:2232.2000000000003px;">Q4 Outage</div>
<div style="left:1867px;top:1012px;width:2px;height:5px;background:#d4d4d4;"></div>
<div style="left:2122px;top:1012px;width:2px;height:5px;background:#d4d4d4;"></div>
<div style="left:2376px;top:1012px;width:2px;height:5px;background:#d4d4d4;"></div>
<div style="left:1612px;top:751px;width:1019px;height:261px;border:2px solid #707070;background:transparent"></div>
<div style="left:1519.2px;top:625.2px;width:15.6px;height:15.6px;background:#fff;border:1.3px solid #9c9c9c;border-radius:1.6px;box-shadow:0 1px 2.5px rgba(0,0,0,.3)"></div>
<div style="left:1519.2px;top:862.2px;width:15.6px;height:15.6px;background:#fff;border:1.3px solid #9c9c9c;border-radius:1.6px;box-shadow:0 1px 2.5px rgba(0,0,0,.3)"></div>
<div style="left:1519.2px;top:1099.2px;width:15.6px;height:15.6px;background:#fff;border:1.3px solid #9c9c9c;border-radius:1.6px;box-shadow:0 1px 2.5px rgba(0,0,0,.3)"></div>
<div style="left:2084.2px;top:625.2px;width:15.6px;height:15.6px;background:#fff;border:1.3px solid #9c9c9c;border-radius:1.6px;box-shadow:0 1px 2.5px rgba(0,0,0,.3)"></div>
<div style="left:2084.2px;top:1099.2px;width:15.6px;height:15.6px;background:#fff;border:1.3px solid #9c9c9c;border-radius:1.6px;box-shadow:0 1px 2.5px rgba(0,0,0,.3)"></div>
<div style="left:2649.2px;top:625.2px;width:15.6px;height:15.6px;background:#fff;border:1.3px solid #9c9c9c;border-radius:1.6px;box-shadow:0 1px 2.5px rgba(0,0,0,.3)"></div>
<div style="left:2649.2px;top:862.2px;width:15.6px;height:15.6px;background:#fff;border:1.3px solid #9c9c9c;border-radius:1.6px;box-shadow:0 1px 2.5px rgba(0,0,0,.3)"></div>
<div style="left:2649.2px;top:1099.2px;width:15.6px;height:15.6px;background:#fff;border:1.3px solid #9c9c9c;border-radius:1.6px;box-shadow:0 1px 2.5px rgba(0,0,0,.3)"></div>
<div style="left:1603.4px;top:743.2px;width:15.6px;height:15.6px;background:#fff;border:1.3px solid #9c9c9c;border-radius:1.6px;box-shadow:0 1px 2.5px rgba(0,0,0,.3)"></div>
<div style="left:1603.4px;top:873.2px;width:15.6px;height:15.6px;background:#fff;border:1.3px solid #9c9c9c;border-radius:1.6px;box-shadow:0 1px 2.5px rgba(0,0,0,.3)"></div>
<div style="left:1603.4px;top:1002.7px;width:15.6px;height:15.6px;background:#fff;border:1.3px solid #9c9c9c;border-radius:1.6px;box-shadow:0 1px 2.5px rgba(0,0,0,.3)"></div>
<div style="left:2112.7px;top:743.2px;width:15.6px;height:15.6px;background:#fff;border:1.3px solid #9c9c9c;border-radius:1.6px;box-shadow:0 1px 2.5px rgba(0,0,0,.3)"></div>
<div style="left:2112.7px;top:1002.7px;width:15.6px;height:15.6px;background:#fff;border:1.3px solid #9c9c9c;border-radius:1.6px;box-shadow:0 1px 2.5px rgba(0,0,0,.3)"></div>
<div style="left:2623.2px;top:743.2px;width:15.6px;height:15.6px;background:#fff;border:1.3px solid #9c9c9c;border-radius:1.6px;box-shadow:0 1px 2.5px rgba(0,0,0,.3)"></div>
<div style="left:2623.2px;top:873.2px;width:15.6px;height:15.6px;background:#fff;border:1.3px solid #9c9c9c;border-radius:1.6px;box-shadow:0 1px 2.5px rgba(0,0,0,.3)"></div>
<div style="left:2623.2px;top:1002.7px;width:15.6px;height:15.6px;background:#fff;border:1.3px solid #9c9c9c;border-radius:1.6px;box-shadow:0 1px 2.5px rgba(0,0,0,.3)"></div>
<div style="left:0px;top:0px;width:2880px;height:36px;background:#181818;"></div>
<div style="left:0px;top:38px;width:44px;height:1136px;background:#181818;"></div>
<div style="left:0px;top:0px;width:2px;height:1174px;background:#444;"></div>
<div style="left:0px;top:36px;width:2880px;height:2px;background:#c3c2be;"></div>
<div style="left:44px;top:0px;width:2px;height:1174px;background:#c0bfbb;"></div>
<svg style="left:0;top:0" width="46" height="38"><defs><linearGradient id="tg" x1="0" y1="1" x2="1" y2="0"><stop offset="0" stop-color="#4a4a4a"/><stop offset="1" stop-color="#6a6a6a"/></linearGradient></defs><path d="M40 2 L40 32 L10 32 Z" fill="url(#tg)"/></svg>
<div style="left:412px;top:0px;width:2px;height:36px;background:#6c6c6c;"></div>
<div style="left:540px;top:0px;width:2px;height:36px;background:#6c6c6c;"></div>
<div style="left:846px;top:0px;width:2px;height:36px;background:#6c6c6c;"></div>
<div style="left:1188px;top:0px;width:2px;height:36px;background:#6c6c6c;"></div>
<div style="left:1386px;top:0px;width:2px;height:36px;background:#6c6c6c;"></div>
<div style="left:1568px;top:0px;width:2px;height:36px;background:#6c6c6c;"></div>
<div style="left:1732px;top:0px;width:2px;height:36px;background:#6c6c6c;"></div>
<div style="left:1896px;top:0px;width:2px;height:36px;background:#6c6c6c;"></div>
<div style="left:2060px;top:0px;width:2px;height:36px;background:#6c6c6c;"></div>
<div style="left:2224px;top:0px;width:2px;height:36px;background:#6c6c6c;"></div>
<div style="left:2388px;top:0px;width:2px;height:36px;background:#6c6c6c;"></div>
<div style="left:2586px;top:0px;width:2px;height:36px;background:#6c6c6c;"></div>
<div style="left:2750px;top:0px;width:2px;height:36px;background:#6c6c6c;"></div>
<div class="t" style="top:0px;font-size:21px;line-height:30px;color:#fff;font-weight:bold;left:-769.8px;width:2000px;text-align:center;transform:scale(0.88,1);transform-origin:50% 22px;">A</div>
<div class="t" style="top:0px;font-size:21px;line-height:30px;color:#fff;font-weight:bold;left:-522.8px;width:2000px;text-align:center;transform:scale(0.88,1);transform-origin:50% 22px;">B</div>
<div class="t" style="top:0px;font-size:21px;line-height:30px;color:#fff;font-weight:bold;left:-305.79999999999995px;width:2000px;text-align:center;transform:scale(0.88,1);transform-origin:50% 22px;">C</div>
<div class="t" style="top:0px;font-size:21px;line-height:30px;color:#fff;font-weight:bold;left:18.200000000000045px;width:2000px;text-align:center;transform:scale(0.88,1);transform-origin:50% 22px;">D</div>
<div class="t" style="top:0px;font-size:21px;line-height:30px;color:#fff;font-weight:bold;left:288.20000000000005px;width:2000px;text-align:center;transform:scale(0.88,1);transform-origin:50% 22px;">E</div>
<div class="t" style="top:0px;font-size:21px;line-height:30px;color:#fff;font-weight:bold;left:478.20000000000005px;width:2000px;text-align:center;transform:scale(0.88,1);transform-origin:50% 22px;">F</div>
<div class="t" style="top:0px;font-size:21px;line-height:30px;color:#fff;font-weight:bold;left:651.2px;width:2000px;text-align:center;transform:scale(0.88,1);transform-origin:50% 22px;">G</div>
<div class="t" style="top:0px;font-size:21px;line-height:30px;color:#fff;font-weight:bold;left:815.2px;width:2000px;text-align:center;transform:scale(0.88,1);transform-origin:50% 22px;">H</div>
<div class="t" style="top:0px;font-size:21px;line-height:30px;color:#fff;font-weight:bold;left:979.2px;width:2000px;text-align:center;transform:scale(0.88,1);transform-origin:50% 22px;">I</div>
<div class="t" style="top:0px;font-size:21px;line-height:30px;color:#fff;font-weight:bold;left:1143.1999999999998px;width:2000px;text-align:center;transform:scale(0.88,1);transform-origin:50% 22px;">J</div>
<div class="t" style="top:0px;font-size:21px;line-height:30px;color:#fff;font-weight:bold;left:1307.1999999999998px;width:2000px;text-align:center;transform:scale(0.88,1);transform-origin:50% 22px;">K</div>
<div class="t" style="top:0px;font-size:21px;line-height:30px;color:#fff;font-weight:bold;left:1488.1999999999998px;width:2000px;text-align:center;transform:scale(0.88,1);transform-origin:50% 22px;">L</div>
<div class="t" style="top:0px;font-size:21px;line-height:30px;color:#fff;font-weight:bold;left:1669.1999999999998px;width:2000px;text-align:center;transform:scale(0.88,1);transform-origin:50% 22px;">M</div>
<div class="t" style="top:0px;font-size:21px;line-height:30px;color:#fff;font-weight:bold;left:1833.1999999999998px;width:2000px;text-align:center;transform:scale(0.88,1);transform-origin:50% 22px;">N</div>
<div style="left:0px;top:154px;width:44px;height:2px;background:#5a5a5a;"></div>
<div class="t" style="top:126px;font-size:20.8px;line-height:30px;color:#fff;left:-978.5px;width:2000px;text-align:center;-webkit-text-stroke:0.5px #fff;">49</div>
<div style="left:0px;top:180px;width:44px;height:2px;background:#5a5a5a;"></div>
<div class="t" style="top:152px;font-size:20.8px;line-height:30px;color:#fff;left:-978.5px;width:2000px;text-align:center;-webkit-text-stroke:0.5px #fff;">50</div>
<div style="left:0px;top:206px;width:44px;height:2px;background:#5a5a5a;"></div>
<div class="t" style="top:178px;font-size:20.8px;line-height:30px;color:#fff;left:-978.5px;width:2000px;text-align:center;-webkit-text-stroke:0.5px #fff;">51</div>
<div style="left:0px;top:232px;width:44px;height:2px;background:#5a5a5a;"></div>
<div class="t" style="top:204px;font-size:20.8px;line-height:30px;color:#fff;left:-978.5px;width:2000px;text-align:center;-webkit-text-stroke:0.5px #fff;">52</div>
<div style="left:0px;top:258px;width:44px;height:2px;background:#5a5a5a;"></div>
<div class="t" style="top:230px;font-size:20.8px;line-height:30px;color:#fff;left:-978.5px;width:2000px;text-align:center;-webkit-text-stroke:0.5px #fff;">53</div>
<div style="left:0px;top:284px;width:44px;height:2px;background:#5a5a5a;"></div>
<div class="t" style="top:256px;font-size:20.8px;line-height:30px;color:#fff;left:-978.5px;width:2000px;text-align:center;-webkit-text-stroke:0.5px #fff;">54</div>
<div style="left:0px;top:310px;width:44px;height:2px;background:#5a5a5a;"></div>
<div class="t" style="top:282px;font-size:20.8px;line-height:30px;color:#fff;left:-978.5px;width:2000px;text-align:center;-webkit-text-stroke:0.5px #fff;">55</div>
<div style="left:0px;top:336px;width:44px;height:2px;background:#5a5a5a;"></div>
<div class="t" style="top:308px;font-size:20.8px;line-height:30px;color:#fff;left:-978.5px;width:2000px;text-align:center;-webkit-text-stroke:0.5px #fff;">56</div>
<div style="left:0px;top:362px;width:44px;height:2px;background:#5a5a5a;"></div>
<div class="t" style="top:334px;font-size:20.8px;line-height:30px;color:#fff;left:-978.5px;width:2000px;text-align:center;-webkit-text-stroke:0.5px #fff;">57</div>
<div style="left:0px;top:388px;width:44px;height:2px;background:#5a5a5a;"></div>
<div class="t" style="top:360px;font-size:20.8px;line-height:30px;color:#fff;left:-978.5px;width:2000px;text-align:center;-webkit-text-stroke:0.5px #fff;">58</div>
<div style="left:0px;top:414px;width:44px;height:2px;background:#5a5a5a;"></div>
<div class="t" style="top:386px;font-size:20.8px;line-height:30px;color:#fff;left:-978.5px;width:2000px;text-align:center;-webkit-text-stroke:0.5px #fff;">59</div>
<div style="left:0px;top:440px;width:44px;height:2px;background:#5a5a5a;"></div>
<div class="t" style="top:412px;font-size:20.8px;line-height:30px;color:#fff;left:-978.5px;width:2000px;text-align:center;-webkit-text-stroke:0.5px #fff;">60</div>
<div style="left:0px;top:466px;width:44px;height:2px;background:#5a5a5a;"></div>
<div class="t" style="top:438px;font-size:20.8px;line-height:30px;color:#fff;left:-978.5px;width:2000px;text-align:center;-webkit-text-stroke:0.5px #fff;">61</div>
<div style="left:0px;top:492px;width:44px;height:2px;background:#5a5a5a;"></div>
<div class="t" style="top:464px;font-size:20.8px;line-height:30px;color:#fff;left:-978.5px;width:2000px;text-align:center;-webkit-text-stroke:0.5px #fff;">62</div>
<div style="left:0px;top:518px;width:44px;height:2px;background:#5a5a5a;"></div>
<div class="t" style="top:490px;font-size:20.8px;line-height:30px;color:#fff;left:-978.5px;width:2000px;text-align:center;-webkit-text-stroke:0.5px #fff;">63</div>
<div style="left:0px;top:544px;width:44px;height:2px;background:#5a5a5a;"></div>
<div class="t" style="top:516px;font-size:20.8px;line-height:30px;color:#fff;left:-978.5px;width:2000px;text-align:center;-webkit-text-stroke:0.5px #fff;">64</div>
<div style="left:0px;top:604px;width:44px;height:2px;background:#5a5a5a;"></div>
<div class="t" style="top:576px;font-size:20.8px;line-height:30px;color:#fff;left:-978.5px;width:2000px;text-align:center;-webkit-text-stroke:0.5px #fff;">65</div>
<div style="left:0px;top:630px;width:44px;height:2px;background:#5a5a5a;"></div>
<div class="t" style="top:602px;font-size:20.8px;line-height:30px;color:#fff;left:-978.5px;width:2000px;text-align:center;-webkit-text-stroke:0.5px #fff;">66</div>
<div style="left:0px;top:656px;width:44px;height:2px;background:#5a5a5a;"></div>
<div class="t" style="top:628px;font-size:20.8px;line-height:30px;color:#fff;left:-978.5px;width:2000px;text-align:center;-webkit-text-stroke:0.5px #fff;">67</div>
<div style="left:0px;top:682px;width:44px;height:2px;background:#5a5a5a;"></div>
<div class="t" style="top:654px;font-size:20.8px;line-height:30px;color:#fff;left:-978.5px;width:2000px;text-align:center;-webkit-text-stroke:0.5px #fff;">68</div>
<div style="left:0px;top:708px;width:44px;height:2px;background:#5a5a5a;"></div>
<div class="t" style="top:680px;font-size:20.8px;line-height:30px;color:#fff;left:-978.5px;width:2000px;text-align:center;-webkit-text-stroke:0.5px #fff;">69</div>
<div style="left:0px;top:734px;width:44px;height:2px;background:#5a5a5a;"></div>
<div class="t" style="top:706px;font-size:20.8px;line-height:30px;color:#fff;left:-978.5px;width:2000px;text-align:center;-webkit-text-stroke:0.5px #fff;">70</div>
<div style="left:0px;top:760px;width:44px;height:2px;background:#5a5a5a;"></div>
<div class="t" style="top:732px;font-size:20.8px;line-height:30px;color:#fff;left:-978.5px;width:2000px;text-align:center;-webkit-text-stroke:0.5px #fff;">71</div>
<div style="left:0px;top:786px;width:44px;height:2px;background:#5a5a5a;"></div>
<div class="t" style="top:758px;font-size:20.8px;line-height:30px;color:#fff;left:-978.5px;width:2000px;text-align:center;-webkit-text-stroke:0.5px #fff;">72</div>
<div style="left:0px;top:812px;width:44px;height:2px;background:#5a5a5a;"></div>
<div class="t" style="top:784px;font-size:20.8px;line-height:30px;color:#fff;left:-978.5px;width:2000px;text-align:center;-webkit-text-stroke:0.5px #fff;">73</div>
<div style="left:0px;top:838px;width:44px;height:2px;background:#5a5a5a;"></div>
<div class="t" style="top:810px;font-size:20.8px;line-height:30px;color:#fff;left:-978.5px;width:2000px;text-align:center;-webkit-text-stroke:0.5px #fff;">74</div>
<div style="left:0px;top:864px;width:44px;height:2px;background:#5a5a5a;"></div>
<div class="t" style="top:836px;font-size:20.8px;line-height:30px;color:#fff;left:-978.5px;width:2000px;text-align:center;-webkit-text-stroke:0.5px #fff;">75</div>
<div style="left:0px;top:890px;width:44px;height:2px;background:#5a5a5a;"></div>
<div class="t" style="top:862px;font-size:20.8px;line-height:30px;color:#fff;left:-978.5px;width:2000px;text-align:center;-webkit-text-stroke:0.5px #fff;">76</div>
<div style="left:0px;top:916px;width:44px;height:2px;background:#5a5a5a;"></div>
<div class="t" style="top:888px;font-size:20.8px;line-height:30px;color:#fff;left:-978.5px;width:2000px;text-align:center;-webkit-text-stroke:0.5px #fff;">77</div>
<div style="left:0px;top:942px;width:44px;height:2px;background:#5a5a5a;"></div>
<div class="t" style="top:914px;font-size:20.8px;line-height:30px;color:#fff;left:-978.5px;width:2000px;text-align:center;-webkit-text-stroke:0.5px #fff;">78</div>
<div style="left:0px;top:968px;width:44px;height:2px;background:#5a5a5a;"></div>
<div class="t" style="top:940px;font-size:20.8px;line-height:30px;color:#fff;left:-978.5px;width:2000px;text-align:center;-webkit-text-stroke:0.5px #fff;">79</div>
<div style="left:0px;top:994px;width:44px;height:2px;background:#5a5a5a;"></div>
<div class="t" style="top:966px;font-size:20.8px;line-height:30px;color:#fff;left:-978.5px;width:2000px;text-align:center;-webkit-text-stroke:0.5px #fff;">80</div>
<div style="left:0px;top:1020px;width:44px;height:2px;background:#5a5a5a;"></div>
<div class="t" style="top:992px;font-size:20.8px;line-height:30px;color:#fff;left:-978.5px;width:2000px;text-align:center;-webkit-text-stroke:0.5px #fff;">81</div>
<div style="left:0px;top:1046px;width:44px;height:2px;background:#5a5a5a;"></div>
<div class="t" style="top:1018px;font-size:20.8px;line-height:30px;color:#fff;left:-978.5px;width:2000px;text-align:center;-webkit-text-stroke:0.5px #fff;">82</div>
<div style="left:0px;top:1072px;width:44px;height:2px;background:#5a5a5a;"></div>
<div class="t" style="top:1044px;font-size:20.8px;line-height:30px;color:#fff;left:-978.5px;width:2000px;text-align:center;-webkit-text-stroke:0.5px #fff;">83</div>
<div style="left:0px;top:1098px;width:44px;height:2px;background:#5a5a5a;"></div>
<div class="t" style="top:1070px;font-size:20.8px;line-height:30px;color:#fff;left:-978.5px;width:2000px;text-align:center;-webkit-text-stroke:0.5px #fff;">84</div>
<div style="left:0px;top:1124px;width:44px;height:2px;background:#5a5a5a;"></div>
<div class="t" style="top:1096px;font-size:20.8px;line-height:30px;color:#fff;left:-978.5px;width:2000px;text-align:center;-webkit-text-stroke:0.5px #fff;">85</div>
<div class="t" style="top:1160px;font-size:20.8px;line-height:30px;color:#fff;left:-978.5px;width:2000px;text-align:center;-webkit-text-stroke:0.5px #fff;">86</div>
<div style="left:0px;top:1174px;width:2880px;height:42px;background:#212121;"></div>
<div style="left:0px;top:1174px;width:2880px;height:2px;background:#5a5a5a;"></div>
<div style="left:0px;top:1176px;width:121px;height:40px;background:#323232;"></div>
<div style="left:0px;top:1176px;width:2px;height:40px;background:#505050;"></div>
<div style="left:2050px;top:1176px;width:830px;height:40px;background:#303030;"></div>
<div style="left:120px;top:1176px;width:2px;height:40px;background:#5e5e5e;"></div>
<div style="left:306px;top:1176px;width:2px;height:40px;background:#5e5e5e;"></div>
<div style="left:630px;top:1176px;width:2px;height:40px;background:#5e5e5e;"></div>
<div style="left:1065px;top:1176px;width:2px;height:40px;background:#5e5e5e;"></div>
<div style="left:1439.5px;top:1176px;width:2px;height:40px;background:#5e5e5e;"></div>
<div style="left:2126px;top:1176px;width:2px;height:40px;background:#5e5e5e;"></div>
<svg style="left:0;top:0" width="130" height="1216"><path d="M43 1193.3 L43 1210.5 L30.5 1201.9 Z" fill="#676767" stroke="#676767" stroke-width="2" stroke-linejoin="round"/><path d="M77 1193.3 L77 1210.5 L89.2 1201.9 Z" fill="#676767" stroke="#676767" stroke-width="2" stroke-linejoin="round"/></svg>
<div style="left:127.5px;top:1180px;width:172.5px;height:36px;background:#222835;"></div>
<div class="t" style="top:1185px;font-size:23.3px;line-height:30px;color:#fff;left:-785.8px;width:2000px;text-align:center;transform:scale(1.075,1);transform-origin:50% 23px;-webkit-text-stroke:0.3px #fff;">Definitions</div>
<div class="t" style="top:1185px;font-size:23.3px;line-height:30px;color:#7c7c7c;left:-531px;width:2000px;text-align:center;transform:scale(1.075,1);transform-origin:50% 23px;-webkit-text-stroke:0.3px #7c7c7c;">Data Repository Table</div>
<div class="t" style="top:1185px;font-size:23.3px;line-height:30px;color:#7c7c7c;left:-152px;width:2000px;text-align:center;transform:scale(1.075,1);transform-origin:50% 23px;-webkit-text-stroke:0.3px #7c7c7c;">Water Trading Repository Table</div>
<div style="left:1071.5px;top:1180px;width:363.5px;height:36px;background:#c9e0b9;"></div>
<div class="t" style="top:1185px;font-size:23.3px;line-height:30px;color:#000;left:253.20000000000005px;width:2000px;text-align:center;transform:scale(1.075,1);transform-origin:50% 23px;-webkit-text-stroke:0.3px #000;">Economic Market Analysis</div>
<div style="left:1447px;top:1180px;width:337.5px;height:36px;background:#c9e0b9;"></div>
<div class="t" style="top:1185px;font-size:23.3px;line-height:30px;color:#000;left:616.2px;width:2000px;text-align:center;transform:scale(1.075,1);transform-origin:50% 23px;-webkit-text-stroke:0.3px #000;">Economic Cost Analysis</div>
<div style="left:1792px;top:1174px;width:258px;height:42px;background:#fff;border-radius:4.5px 4.5px 0 0"></div>
<div style="left:1798px;top:1180px;width:246px;height:33.6px;background:linear-gradient(180deg,#fcfdfb 0%,#edf5e8 50%,#dbead0 100%)"></div>
<div class="t" style="top:1185px;font-size:22.2px;line-height:30px;color:#3f8052;font-weight:bold;left:921px;width:2000px;text-align:center;transform:scale(1.087,1);transform-origin:50% 22px;">What-If Analysis</div>
<div style="left:2080px;top:1198.3px;width:20px;height:3.8px;background:#adadad;"></div>
<div style="left:2088.1px;top:1190.3px;width:3.8px;height:19.8px;background:#adadad;"></div>
<div style="left:2878px;top:0px;width:2px;height:1216px;background:rgba(255,255,255,0.17);"></div>
</div></body></html>
